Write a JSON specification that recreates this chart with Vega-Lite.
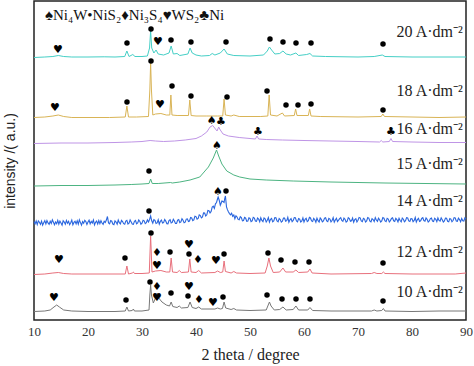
{
"$schema": "https://vega.github.io/schema/vega-lite/v6.json",
"width": 432, "height": 319,
"autosize": {"type": "none"},
"padding": {"left": 34, "top": 1, "right": 8, "bottom": 46},
"config": {"view": {"stroke": "#222", "strokeWidth": 1.5}, "font": "Liberation Serif"},
"datasets": {
"c20": [{"x":10,"y":262.5},{"x":12,"y":263},{"x":13.5,"y":263.5},{"x":14.5,"y":264.5},{"x":15.5,"y":263.5},{"x":17,"y":263},{"x":20,"y":263},{"x":23,"y":263.2},{"x":25,"y":263},{"x":26.8,"y":263.5},{"x":27.2,"y":269},{"x":27.6,"y":263.5},{"x":28.3,"y":265.5},{"x":28.7,"y":263.5},{"x":30,"y":263.5},{"x":31,"y":264},{"x":31.4,"y":272},{"x":31.6,"y":289},{"x":31.8,"y":272},{"x":32.2,"y":267},{"x":32.6,"y":270},{"x":33,"y":266},{"x":34,"y":265},{"x":35,"y":267},{"x":35.4,"y":274},{"x":35.8,"y":266},{"x":36.5,"y":266.5},{"x":37,"y":264.5},{"x":38.5,"y":266},{"x":38.9,"y":272},{"x":39.3,"y":267},{"x":40,"y":265},{"x":41,"y":264},{"x":42.5,"y":264.5},{"x":43,"y":266.5},{"x":43.5,"y":265},{"x":44.5,"y":267},{"x":45.2,"y":271},{"x":45.8,"y":266},{"x":47,"y":264.5},{"x":50,"y":264},{"x":52.5,"y":265},{"x":53.2,"y":269},{"x":53.6,"y":273},{"x":54,"y":270},{"x":54.6,"y":266},{"x":55.5,"y":266.5},{"x":56.1,"y":269},{"x":56.7,"y":266},{"x":57.5,"y":265},{"x":58.5,"y":267},{"x":59,"y":264.5},{"x":60.5,"y":265.5},{"x":61.1,"y":266.5},{"x":61.6,"y":264},{"x":64,"y":263.5},{"x":70,"y":263},{"x":73,"y":263.5},{"x":74.5,"y":265},{"x":75,"y":263.5},{"x":80,"y":263},{"x":85,"y":263},{"x":90,"y":263}],
"c18": [{"x":10,"y":202.5},{"x":12,"y":203},{"x":13.5,"y":204},{"x":14.5,"y":205},{"x":15.5,"y":203.5},{"x":17,"y":202.5},{"x":20,"y":202.5},{"x":24,"y":202.5},{"x":26.9,"y":203},{"x":27.2,"y":214},{"x":27.5,"y":203},{"x":29,"y":203},{"x":31.2,"y":203.5},{"x":31.45,"y":230},{"x":31.6,"y":257},{"x":31.75,"y":230},{"x":32,"y":205},{"x":32.5,"y":206},{"x":33.5,"y":206.5},{"x":34.5,"y":205},{"x":35.15,"y":205},{"x":35.35,"y":225},{"x":35.55,"y":205},{"x":36.5,"y":204.5},{"x":38.6,"y":204.5},{"x":38.85,"y":220},{"x":39.1,"y":204.5},{"x":40,"y":204},{"x":42,"y":204},{"x":44,"y":204},{"x":44.95,"y":204},{"x":45.2,"y":221},{"x":45.45,"y":205},{"x":46.5,"y":204},{"x":47,"y":205},{"x":48,"y":203.5},{"x":52,"y":203.5},{"x":53.3,"y":204},{"x":53.55,"y":225},{"x":53.8,"y":205},{"x":55,"y":204},{"x":56,"y":207},{"x":56.4,"y":204},{"x":58.2,"y":204.5},{"x":58.45,"y":211},{"x":58.7,"y":204.5},{"x":60.8,"y":204.5},{"x":61.05,"y":211},{"x":61.3,"y":204},{"x":63,"y":203.5},{"x":70,"y":203},{"x":74.3,"y":203.5},{"x":74.6,"y":206},{"x":74.9,"y":203.5},{"x":80,"y":203},{"x":85,"y":202.5},{"x":90,"y":203}],
"c16": [{"x":10,"y":176.5},{"x":15,"y":177},{"x":20,"y":177},{"x":25,"y":177.5},{"x":28,"y":178},{"x":30,"y":178.5},{"x":31.5,"y":179.5},{"x":32.5,"y":179},{"x":34,"y":178.5},{"x":36,"y":179},{"x":38,"y":180},{"x":40,"y":181.5},{"x":41,"y":184},{"x":42,"y":188},{"x":42.6,"y":193},{"x":43.1,"y":194.5},{"x":43.6,"y":191},{"x":43.9,"y":189},{"x":44.2,"y":193},{"x":44.5,"y":190},{"x":45,"y":186},{"x":46,"y":184},{"x":48,"y":182.5},{"x":50,"y":181.5},{"x":51,"y":181},{"x":51.3,"y":184},{"x":51.6,"y":181},{"x":53,"y":180.5},{"x":56,"y":180},{"x":60,"y":179.5},{"x":65,"y":179},{"x":70,"y":178.5},{"x":74,"y":178},{"x":74.3,"y":179.5},{"x":74.6,"y":178},{"x":75.8,"y":178.5},{"x":76.1,"y":181.5},{"x":76.4,"y":178.5},{"x":80,"y":178},{"x":85,"y":177.5},{"x":90,"y":177.5}],
"c15": [{"x":10,"y":134},{"x":15,"y":134.5},{"x":20,"y":134.5},{"x":25,"y":135},{"x":28,"y":135.5},{"x":30,"y":136},{"x":31.3,"y":136.5},{"x":31.6,"y":141},{"x":31.9,"y":136.5},{"x":33,"y":136.5},{"x":35.3,"y":137.5},{"x":35.6,"y":137},{"x":37,"y":138},{"x":38.9,"y":140},{"x":40.7,"y":143},{"x":42.3,"y":153},{"x":43.2,"y":162},{"x":43.8,"y":170},{"x":44.2,"y":164},{"x":44.8,"y":156},{"x":45.7,"y":149},{"x":47,"y":145},{"x":48.1,"y":143},{"x":50,"y":141},{"x":53,"y":140},{"x":58,"y":139},{"x":65,"y":138},{"x":75,"y":137},{"x":90,"y":136}],
"c14": [{"x":10,"y":98.5},{"x":10.2,"y":96.1},{"x":10.4,"y":99},{"x":10.6,"y":95.4},{"x":10.8,"y":99.1},{"x":11,"y":97.8},{"x":11.2,"y":95.6},{"x":11.4,"y":98.9},{"x":11.6,"y":94.9},{"x":11.8,"y":97.2},{"x":12,"y":99.3},{"x":12.2,"y":96},{"x":12.4,"y":99.4},{"x":12.6,"y":97.1},{"x":12.8,"y":95.6},{"x":13,"y":98.8},{"x":13.2,"y":96.5},{"x":13.4,"y":100.1},{"x":13.6,"y":97.8},{"x":13.8,"y":95.2},{"x":14,"y":98.1},{"x":14.2,"y":96.3},{"x":14.4,"y":99.7},{"x":14.6,"y":95.9},{"x":14.8,"y":98.9},{"x":15,"y":97},{"x":15.2,"y":94.8},{"x":15.4,"y":99.2},{"x":15.6,"y":97.9},{"x":15.8,"y":95.7},{"x":16,"y":99.6},{"x":16.2,"y":96.8},{"x":16.4,"y":98.7},{"x":16.6,"y":95.3},{"x":16.8,"y":97.2},{"x":17,"y":99.9},{"x":17.2,"y":95.2},{"x":17.4,"y":97.6},{"x":17.6,"y":98.7},{"x":17.8,"y":96},{"x":18,"y":99.3},{"x":18.2,"y":95.8},{"x":18.4,"y":100.2},{"x":18.6,"y":97.4},{"x":18.8,"y":94.9},{"x":19,"y":98.5},{"x":19.2,"y":96.8},{"x":19.4,"y":99.6},{"x":19.6,"y":98.4},{"x":19.8,"y":95.5},{"x":20,"y":97.9},{"x":20.2,"y":99.8},{"x":20.4,"y":96.1},{"x":20.6,"y":98.6},{"x":20.8,"y":97},{"x":21,"y":100},{"x":21.2,"y":95.1},{"x":21.4,"y":97.7},{"x":21.6,"y":98.9},{"x":21.8,"y":95.9},{"x":22,"y":99.4},{"x":22.2,"y":96.4},{"x":22.4,"y":99.3},{"x":22.6,"y":97},{"x":22.8,"y":95.7},{"x":23,"y":98.8},{"x":23.2,"y":97.6},{"x":23.4,"y":99.9},{"x":23.6,"y":103.5},{"x":23.8,"y":97.1},{"x":24,"y":96.2},{"x":24.2,"y":99.5},{"x":24.4,"y":98.8},{"x":24.6,"y":96},{"x":24.8,"y":95.4},{"x":25,"y":99.1},{"x":25.2,"y":97.9},{"x":25.4,"y":95.8},{"x":25.6,"y":100},{"x":25.8,"y":97.3},{"x":26,"y":96.1},{"x":26.2,"y":99.7},{"x":26.4,"y":98.4},{"x":26.6,"y":96.3},{"x":26.8,"y":95.8},{"x":27,"y":98.9},{"x":27.2,"y":99.7},{"x":27.4,"y":96},{"x":27.6,"y":96.9},{"x":27.8,"y":100.1},{"x":28,"y":98.1},{"x":28.2,"y":95.9},{"x":28.4,"y":95.6},{"x":28.6,"y":98.6},{"x":28.8,"y":99.5},{"x":29,"y":96.2},{"x":29.2,"y":97},{"x":29.4,"y":100},{"x":29.6,"y":98.6},{"x":29.8,"y":95.8},{"x":30,"y":96.9},{"x":30.2,"y":99.8},{"x":30.4,"y":99.2},{"x":30.6,"y":96.4},{"x":30.8,"y":97.3},{"x":31,"y":100.1},{"x":31.2,"y":98},{"x":31.4,"y":100.5},{"x":31.6,"y":104},{"x":31.8,"y":99.2},{"x":32,"y":96.8},{"x":32.2,"y":100.3},{"x":32.4,"y":99.6},{"x":32.6,"y":96.5},{"x":32.8,"y":97.1},{"x":33,"y":100.2},{"x":33.2,"y":95.8},{"x":33.4,"y":98.6},{"x":33.6,"y":99.9},{"x":33.8,"y":96.9},{"x":34,"y":97.4},{"x":34.2,"y":100.6},{"x":34.4,"y":98.9},{"x":34.6,"y":96.3},{"x":34.8,"y":96.2},{"x":35,"y":99.4},{"x":35.2,"y":100.3},{"x":35.4,"y":97},{"x":35.6,"y":97.6},{"x":35.8,"y":100.8},{"x":36,"y":99},{"x":36.2,"y":96.6},{"x":36.4,"y":96.5},{"x":36.6,"y":99.9},{"x":36.8,"y":100.4},{"x":37,"y":97.3},{"x":37.2,"y":98.1},{"x":37.4,"y":101.3},{"x":37.6,"y":99.7},{"x":37.8,"y":97.2},{"x":38,"y":97.8},{"x":38.2,"y":100.9},{"x":38.4,"y":101.2},{"x":38.6,"y":98.5},{"x":38.8,"y":99},{"x":39,"y":102.6},{"x":39.2,"y":102.1},{"x":39.4,"y":99.4},{"x":39.6,"y":100},{"x":39.8,"y":103.8},{"x":40,"y":103.4},{"x":40.2,"y":100.9},{"x":40.4,"y":101.6},{"x":40.6,"y":105.2},{"x":40.8,"y":104.5},{"x":41,"y":102.1},{"x":41.2,"y":103},{"x":41.4,"y":107.1},{"x":41.6,"y":106.9},{"x":41.8,"y":104},{"x":42,"y":105.2},{"x":42.2,"y":109.6},{"x":42.4,"y":109.3},{"x":42.6,"y":107},{"x":42.8,"y":108.6},{"x":43,"y":112.9},{"x":43.2,"y":113.8},{"x":43.4,"y":111.6},{"x":43.6,"y":116.2},{"x":43.8,"y":117.5},{"x":43.9,"y":119.5},{"x":44.1,"y":123},{"x":44.3,"y":119.8},{"x":44.5,"y":114.8},{"x":44.6,"y":116},{"x":44.8,"y":119},{"x":45,"y":118.5},{"x":45.2,"y":117.6},{"x":45.3,"y":121},{"x":45.45,"y":124},{"x":45.65,"y":113},{"x":45.8,"y":110.6},{"x":46,"y":108.2},{"x":46.2,"y":106.4},{"x":46.4,"y":105.1},{"x":46.6,"y":106.8},{"x":46.8,"y":103.6},{"x":47,"y":105},{"x":47.2,"y":101.3},{"x":47.4,"y":104.2},{"x":47.6,"y":103},{"x":47.8,"y":100.6},{"x":48,"y":100.2},{"x":48.2,"y":103.3},{"x":48.4,"y":102.4},{"x":48.6,"y":99.1},{"x":48.8,"y":99.5},{"x":49,"y":102.6},{"x":49.2,"y":101.8},{"x":49.4,"y":98.6},{"x":49.6,"y":98.9},{"x":49.8,"y":102.1},{"x":50,"y":101.5},{"x":50.2,"y":98.4},{"x":50.4,"y":99.2},{"x":50.6,"y":102.7},{"x":50.8,"y":102},{"x":51,"y":99},{"x":51.2,"y":98.6},{"x":51.4,"y":101.9},{"x":51.6,"y":100.9},{"x":51.8,"y":98.3},{"x":52,"y":102.3},{"x":52.2,"y":99.6},{"x":52.4,"y":98.4},{"x":52.6,"y":102},{"x":52.8,"y":101.1},{"x":53,"y":98},{"x":53.2,"y":99.7},{"x":53.4,"y":102.5},{"x":53.6,"y":97.9},{"x":53.8,"y":100.6},{"x":54,"y":101.6},{"x":54.2,"y":98.2},{"x":54.4,"y":99},{"x":54.6,"y":102.4},{"x":54.8,"y":102.2},{"x":55,"y":99},{"x":55.2,"y":98.2},{"x":55.4,"y":101.5},{"x":55.6,"y":100.4},{"x":55.8,"y":97.9},{"x":56,"y":98.8},{"x":56.2,"y":101.9},{"x":56.4,"y":102},{"x":56.6,"y":98.8},{"x":56.8,"y":99.3},{"x":57,"y":102.6},{"x":57.2,"y":97.8},{"x":57.4,"y":100.2},{"x":57.6,"y":101.4},{"x":57.8,"y":98.3},{"x":58,"y":99.6},{"x":58.2,"y":102.5},{"x":58.4,"y":102.3},{"x":58.6,"y":99},{"x":58.8,"y":98.1},{"x":59,"y":101.4},{"x":59.2,"y":100.8},{"x":59.4,"y":97.9},{"x":59.6,"y":99},{"x":59.8,"y":102.1},{"x":60,"y":97.9},{"x":60.2,"y":100.6},{"x":60.4,"y":101.7},{"x":60.6,"y":98.4},{"x":60.8,"y":99.4},{"x":61,"y":102.6},{"x":61.2,"y":102},{"x":61.4,"y":99.1},{"x":61.6,"y":98.5},{"x":61.8,"y":101.6},{"x":62,"y":100.3},{"x":62.2,"y":97.8},{"x":62.4,"y":101.9},{"x":62.6,"y":99.3},{"x":62.8,"y":98},{"x":63,"y":102},{"x":63.2,"y":100.6},{"x":63.4,"y":98.2},{"x":63.6,"y":99.1},{"x":63.8,"y":101.8},{"x":64,"y":102.2},{"x":64.2,"y":99},{"x":64.4,"y":98.3},{"x":64.6,"y":101.7},{"x":64.8,"y":101},{"x":65,"y":98.1},{"x":65.2,"y":99.5},{"x":65.4,"y":102.4},{"x":65.6,"y":97.8},{"x":65.8,"y":100.1},{"x":66,"y":101.8},{"x":66.2,"y":98.5},{"x":66.4,"y":99.9},{"x":66.6,"y":101.4},{"x":66.8,"y":102.4},{"x":67,"y":99.5},{"x":67.2,"y":98.6},{"x":67.4,"y":101.9},{"x":67.6,"y":100.7},{"x":67.8,"y":97.9},{"x":68,"y":98.9},{"x":68.2,"y":102.3},{"x":68.4,"y":101.5},{"x":68.6,"y":98.7},{"x":68.8,"y":99.2},{"x":69,"y":102},{"x":69.2,"y":97.7},{"x":69.4,"y":100.5},{"x":69.6,"y":101.3},{"x":69.8,"y":98},{"x":70,"y":99.8},{"x":70.2,"y":102.6},{"x":70.4,"y":102.1},{"x":70.6,"y":99.1},{"x":70.8,"y":98.4},{"x":71,"y":101.7},{"x":71.2,"y":100.9},{"x":71.4,"y":97.9},{"x":71.6,"y":99},{"x":71.8,"y":102.5},{"x":72,"y":101.9},{"x":72.2,"y":98.9},{"x":72.4,"y":98.2},{"x":72.6,"y":101.3},{"x":72.8,"y":100.5},{"x":73,"y":98.4},{"x":73.2,"y":102.3},{"x":73.4,"y":100},{"x":73.6,"y":98.7},{"x":73.8,"y":101.8},{"x":74,"y":100.2},{"x":74.2,"y":97.9},{"x":74.4,"y":99.1},{"x":74.6,"y":102.4},{"x":74.8,"y":101.8},{"x":75,"y":99},{"x":75.2,"y":98.3},{"x":75.4,"y":101.6},{"x":75.6,"y":100.9},{"x":75.8,"y":98},{"x":76,"y":99.4},{"x":76.2,"y":101.5},{"x":76.4,"y":102.2},{"x":76.6,"y":99.2},{"x":76.8,"y":98.6},{"x":77,"y":101.7},{"x":77.2,"y":100.4},{"x":77.4,"y":98.1},{"x":77.6,"y":101.7},{"x":77.8,"y":99.5},{"x":78,"y":98.1},{"x":78.2,"y":101.9},{"x":78.4,"y":100.8},{"x":78.6,"y":98.2},{"x":78.8,"y":99.3},{"x":79,"y":102.4},{"x":79.2,"y":102},{"x":79.4,"y":99.1},{"x":79.6,"y":98.5},{"x":79.8,"y":101.3},{"x":80,"y":101.2},{"x":80.2,"y":98.3},{"x":80.4,"y":99.6},{"x":80.6,"y":102.5},{"x":80.8,"y":97.9},{"x":81,"y":100.4},{"x":81.2,"y":101.6},{"x":81.4,"y":98.6},{"x":81.6,"y":99.2},{"x":81.8,"y":101.6},{"x":82,"y":102.3},{"x":82.2,"y":99.4},{"x":82.4,"y":98.8},{"x":82.6,"y":102},{"x":82.8,"y":100.6},{"x":83,"y":97.9},{"x":83.2,"y":99},{"x":83.4,"y":101.4},{"x":83.6,"y":101.9},{"x":83.8,"y":98.9},{"x":84,"y":98.4},{"x":84.2,"y":101.8},{"x":84.4,"y":100.7},{"x":84.6,"y":98.3},{"x":84.8,"y":102.1},{"x":85,"y":99.6},{"x":85.2,"y":98.9},{"x":85.4,"y":102.2},{"x":85.6,"y":100.3},{"x":85.8,"y":97.9},{"x":86,"y":99.1},{"x":86.2,"y":102},{"x":86.4,"y":101.8},{"x":86.6,"y":98.7},{"x":86.8,"y":98.2},{"x":87,"y":101.5},{"x":87.2,"y":100.9},{"x":87.4,"y":98.3},{"x":87.6,"y":99.5},{"x":87.8,"y":102.4},{"x":88,"y":102},{"x":88.2,"y":99},{"x":88.4,"y":98.7},{"x":88.6,"y":101.9},{"x":88.8,"y":100.4},{"x":89,"y":98.2},{"x":89.2,"y":101.6},{"x":89.4,"y":99.3},{"x":89.6,"y":99},{"x":89.8,"y":102.2},{"x":90,"y":100.8}],
"c12": [{"x":10,"y":45.5},{"x":12,"y":46},{"x":13.5,"y":47},{"x":14.5,"y":47.5},{"x":15.5,"y":46.5},{"x":17,"y":46},{"x":20,"y":46},{"x":25,"y":46},{"x":26.9,"y":46},{"x":27.2,"y":54},{"x":27.5,"y":46},{"x":28.2,"y":47},{"x":28.4,"y":48},{"x":28.6,"y":46.5},{"x":30,"y":46.5},{"x":31.35,"y":47},{"x":31.5,"y":70},{"x":31.6,"y":84},{"x":31.7,"y":70},{"x":31.85,"y":48},{"x":32.5,"y":49},{"x":33.5,"y":49.5},{"x":34.5,"y":48},{"x":35.15,"y":48},{"x":35.4,"y":62},{"x":35.65,"y":48},{"x":36.5,"y":47.5},{"x":36.9,"y":49.5},{"x":37.3,"y":47.5},{"x":38.6,"y":48},{"x":38.85,"y":61},{"x":39.1,"y":48},{"x":40,"y":47.5},{"x":40.5,"y":49.5},{"x":41,"y":47},{"x":43.5,"y":47.5},{"x":44,"y":49},{"x":44.5,"y":47.5},{"x":44.95,"y":48},{"x":45.2,"y":59},{"x":45.45,"y":48.5},{"x":46.5,"y":47},{"x":47,"y":48.5},{"x":47.5,"y":47},{"x":50,"y":46.5},{"x":52.8,"y":47},{"x":53.2,"y":54},{"x":53.5,"y":62},{"x":53.8,"y":54},{"x":54.3,"y":47.5},{"x":55.5,"y":48},{"x":56.1,"y":52},{"x":56.6,"y":48},{"x":58,"y":48},{"x":58.5,"y":50},{"x":59,"y":47.5},{"x":60.7,"y":48},{"x":61.1,"y":51},{"x":61.5,"y":47},{"x":65,"y":46},{"x":72.5,"y":46.5},{"x":73,"y":47.5},{"x":73.5,"y":46.5},{"x":74.4,"y":46.5},{"x":74.7,"y":48},{"x":75,"y":46.5},{"x":80,"y":46},{"x":85,"y":46},{"x":88,"y":46},{"x":90,"y":47}],
"c10": [{"x":10,"y":8.5},{"x":12,"y":9},{"x":13,"y":10},{"x":13.7,"y":13},{"x":14.2,"y":15},{"x":14.7,"y":13},{"x":15.5,"y":10},{"x":17,"y":9},{"x":20,"y":8.5},{"x":25,"y":8.5},{"x":26.9,"y":9},{"x":27.2,"y":13},{"x":27.5,"y":9},{"x":28.2,"y":9.5},{"x":28.4,"y":11},{"x":28.6,"y":9},{"x":30,"y":9},{"x":31.3,"y":10},{"x":31.45,"y":25},{"x":31.6,"y":35},{"x":31.75,"y":25},{"x":32.1,"y":17},{"x":32.5,"y":22},{"x":32.8,"y":27},{"x":33.1,"y":22},{"x":33.7,"y":18},{"x":34.5,"y":15},{"x":35.1,"y":14},{"x":35.4,"y":18},{"x":35.7,"y":13.5},{"x":36.5,"y":12.5},{"x":36.9,"y":14},{"x":37.3,"y":12},{"x":38.5,"y":12.5},{"x":38.9,"y":18},{"x":39.3,"y":12.5},{"x":40,"y":11.5},{"x":40.5,"y":13},{"x":41,"y":11},{"x":43.5,"y":11},{"x":44,"y":12},{"x":44.5,"y":11},{"x":44.9,"y":11.5},{"x":45.2,"y":18},{"x":45.5,"y":12},{"x":46.5,"y":10.5},{"x":47,"y":11.5},{"x":47.5,"y":10},{"x":50,"y":9.5},{"x":53,"y":10},{"x":53.3,"y":14},{"x":53.6,"y":18},{"x":53.9,"y":14},{"x":54.5,"y":10},{"x":55.5,"y":10.5},{"x":56.1,"y":13},{"x":56.7,"y":10},{"x":58,"y":10.5},{"x":58.5,"y":14},{"x":59,"y":10},{"x":60.7,"y":10},{"x":61.1,"y":12.5},{"x":61.6,"y":9.5},{"x":65,"y":9},{"x":72.5,"y":9},{"x":73,"y":10},{"x":73.5,"y":9},{"x":74.4,"y":9.5},{"x":74.7,"y":11.5},{"x":75,"y":9},{"x":80,"y":8.5},{"x":85,"y":9},{"x":90,"y":9}],
"mk": [
{"x":14.44,"y":270,"m":"♥"},{"x":27.22,"y":277,"m":"●"},{"x":31.67,"y":291,"m":"●"},{"x":32.96,"y":278,"m":"♥"},{"x":35.37,"y":280,"m":"●"},{"x":39.07,"y":278,"m":"●"},{"x":45.56,"y":278,"m":"●"},{"x":53.7,"y":281,"m":"●"},{"x":56.11,"y":278,"m":"●"},{"x":58.52,"y":277,"m":"●"},{"x":61.3,"y":277,"m":"●"},{"x":74.63,"y":276,"m":"●"},
{"x":13.89,"y":212,"m":"♥"},{"x":27.22,"y":218,"m":"●"},{"x":31.67,"y":259,"m":"●"},{"x":33.33,"y":215,"m":"♥"},{"x":35.56,"y":234,"m":"●"},{"x":39.07,"y":224,"m":"●"},{"x":45.74,"y":223,"m":"●"},{"x":53.15,"y":229,"m":"●"},{"x":56.67,"y":215,"m":"●"},{"x":58.89,"y":215,"m":"●"},{"x":61.3,"y":216,"m":"●"},{"x":74.63,"y":210,"m":"●"},
{"x":42.9,"y":199,"m":"♠"},{"x":44.6,"y":198,"m":"♣"},{"x":51.48,"y":188,"m":"♣"},{"x":76.11,"y":188,"m":"♣"},
{"x":31.3,"y":149,"m":"●"},{"x":43.89,"y":174,"m":"♠"},
{"x":31.3,"y":109,"m":"●"},{"x":44.07,"y":128,"m":"♠"},{"x":45.56,"y":129,"m":"●"},
{"x":14.63,"y":60,"m":"♥"},{"x":26.85,"y":62,"m":"●"},{"x":31.67,"y":87,"m":"●"},{"x":32.78,"y":67,"m":"♦"},{"x":32.78,"y":54.5,"m":"♥"},{"x":35.19,"y":68,"m":"●"},{"x":38.7,"y":75,"m":"♥"},{"x":38.7,"y":66,"m":"●"},{"x":40.37,"y":60,"m":"♦"},{"x":43.7,"y":59,"m":"♥"},{"x":45.19,"y":66,"m":"●"},{"x":53.33,"y":67,"m":"●"},{"x":55.74,"y":60,"m":"●"},{"x":58.33,"y":58,"m":"●"},{"x":60.93,"y":58,"m":"●"},{"x":74.63,"y":57,"m":"●"},
{"x":13.7,"y":22,"m":"♥"},{"x":27.04,"y":20,"m":"●"},{"x":31.48,"y":38,"m":"●"},{"x":32.78,"y":33.5,"m":"♦"},{"x":32.78,"y":22,"m":"♥"},{"x":35.37,"y":27,"m":"●"},{"x":38.7,"y":33,"m":"♥"},{"x":38.52,"y":24,"m":"●"},{"x":40.56,"y":20,"m":"♦"},{"x":43.15,"y":17,"m":"♥"},{"x":45.0,"y":23,"m":"●"},{"x":53.15,"y":25,"m":"●"},{"x":55.93,"y":21,"m":"●"},{"x":58.52,"y":21,"m":"●"},{"x":61.11,"y":21,"m":"●"},{"x":74.63,"y":19,"m":"●"}
],
"lab": [{"x":89.4,"y":288,"t":"20 A·dm⁻²"},{"x":89.4,"y":229,"t":"18 A·dm⁻²"},{"x":89.4,"y":191,"t":"16 A·dm⁻²"},{"x":89.4,"y":156,"t":"15 A·dm⁻²"},{"x":89.4,"y":119,"t":"14 A·dm⁻²"},{"x":89.4,"y":68,"t":"12 A·dm⁻²"},{"x":89.4,"y":28,"t":"10 A·dm⁻²"}],
"leg": [{"x":12.04,"y":305,"t":"♠Ni₄W•NiS₂♦Ni₃S₄♥WS₂♣Ni"}],
"major": [{"x":20},{"x":30},{"x":40},{"x":50},{"x":60},{"x":70},{"x":80}],
"minor": [{"x":15},{"x":25},{"x":35},{"x":45},{"x":55},{"x":65},{"x":75},{"x":85}]
},
"encoding": {
"x": {"field": "x", "type": "quantitative", "scale": {"domain": [10, 90], "nice": false, "zero": false},
 "axis": {"values": [10,20,30,40,50,60,70,80,90], "ticks": false, "domain": false, "grid": false, "labelFlush": false, "labelOverlap": false, "labelFont": "Liberation Serif", "labelFontSize": 13, "labelPadding": 5, "labelColor": "#333", "title": "2 theta / degree", "titleFont": "Liberation Serif", "titleFontSize": 16, "titleFontWeight": "normal", "titlePadding": 8, "titleColor": "#222"}},
"y": {"field": "y", "type": "quantitative", "scale": {"domain": [0, 319], "nice": false, "zero": false},
 "axis": {"labels": false, "ticks": false, "domain": false, "grid": false, "title": "intensity /( a.u.)", "titleFont": "Liberation Sans", "titleFontSize": 14, "titleFontWeight": "normal", "titlePadding": 17, "titleColor": "#222"}}
},
"layer": [
{"data": {"name": "c20"}, "mark": {"type": "line", "color": "#45CFC6", "strokeWidth": 1}, "encoding": {}},
{"data": {"name": "c18"}, "mark": {"type": "line", "color": "#D9B456", "strokeWidth": 1}, "encoding": {}},
{"data": {"name": "c16"}, "mark": {"type": "line", "color": "#BF95E6", "strokeWidth": 1}, "encoding": {}},
{"data": {"name": "c15"}, "mark": {"type": "line", "color": "#4DB482", "strokeWidth": 1}, "encoding": {}},
{"data": {"name": "c14"}, "mark": {"type": "line", "color": "#2A66DE", "strokeWidth": 1.1}, "encoding": {}},
{"data": {"name": "c12"}, "mark": {"type": "line", "color": "#E8707C", "strokeWidth": 1}, "encoding": {}},
{"data": {"name": "c10"}, "mark": {"type": "line", "color": "#777777", "strokeWidth": 1}, "encoding": {}},
{"data": {"name": "major"}, "mark": {"type": "rule", "color": "#222", "strokeWidth": 1.2}, "encoding": {"y": {"datum": 0}, "y2": {"datum": 5}}},
{"data": {"name": "minor"}, "mark": {"type": "rule", "color": "#222", "strokeWidth": 1.2}, "encoding": {"y": {"datum": 0}, "y2": {"datum": 3}}},
{"data": {"name": "mk"}, "transform": [{"filter": "datum.m === '●'"}], "mark": {"type": "point", "shape": "circle", "filled": true, "size": 30, "color": "#000", "opacity": 1}},
{"data": {"name": "mk"}, "transform": [{"filter": "datum.m !== '●'"}], "mark": {"type": "text", "font": "DejaVu Sans", "fontSize": 11, "color": "#000", "baseline": "middle", "align": "center"}, "encoding": {"text": {"field": "m"}}},
{"data": {"name": "lab"}, "mark": {"type": "text", "font": "Liberation Serif", "fontSize": 16, "color": "#222", "baseline": "middle", "align": "right"}, "encoding": {"text": {"field": "t"}}},
{"data": {"name": "leg"}, "mark": {"type": "text", "font": "Liberation Serif", "fontSize": 15, "color": "#111", "baseline": "middle", "align": "left"}, "encoding": {"text": {"field": "t"}}}
]
}
